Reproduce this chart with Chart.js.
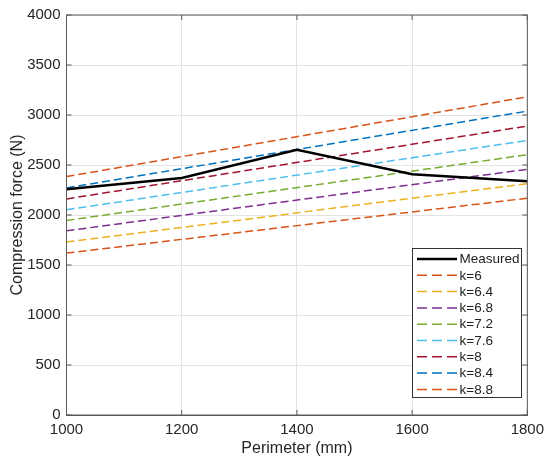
<!DOCTYPE html>
<html>
<head>
<meta charset="utf-8">
<script src="https://cdn.jsdelivr.net/npm/chart.js@4/dist/chart.umd.min.js"></script>
<style>
  html, body { margin: 0; padding: 0; background: #fff; }
  #wrap { width: 550px; height: 464px; }
</style>
</head>
<body>
<div id="wrap"><canvas id="chart"></canvas></div>
<script>
// measured curve
const perimeter = [1000, 1200, 1400, 1600, 1800];
const measured = [2257, 2371, 2653, 2407, 2337];

// model lines, one value at each end of the range
const kEnds = [1000, 1800];
const kLabels = ["k=6", "k=6.4", "k=6.8", "k=7.2", "k=7.6", "k=8", "k=8.4", "k=8.8"];
const kValues = [
  [1619, 2168],
  [1729, 2314],
  [1842, 2457],
  [1945, 2603],
  [2052, 2746],
  [2161, 2890],
  [2271, 3039],
  [2384, 3182],
];
const kColors = ["#D95319", "#EDB120", "#7E2F8E", "#77AC30", "#4DBEEE", "#A2142F", "#0072BD", "#D95319"];

const FONT = "'Liberation Sans', Arial, sans-serif";
const AXIS = "#5a5a5a";

const datasets = [{
  label: "Measured",
  data: perimeter.map((x, i) => ({ x: x, y: measured[i] })),
  borderColor: "#000",
  backgroundColor: "#000",
  borderWidth: 2.5,
  pointRadius: 0,
  showLine: true,
  tension: 0,
}];
kLabels.forEach((lab, i) => {
  datasets.push({
    label: lab,
    data: kEnds.map((x, j) => ({ x: x, y: kValues[i][j] })),
    borderColor: kColors[i],
    backgroundColor: kColors[i],
    borderWidth: 1.5,
    borderDash: [8, 4],
    pointRadius: 0,
    showLine: true,
  });
});

// box, inner ticks and the boxed legend, drawn like the matlab figure
const matlabBox = {
  id: "matlabBox",
  afterDraw(chart) {
    const { ctx, chartArea: a, scales } = chart;
    ctx.save();
    ctx.strokeStyle = AXIS;
    ctx.lineWidth = 1;
    ctx.strokeRect(a.left, a.top, a.right - a.left, a.bottom - a.top);
    ctx.beginPath();
    scales.x.ticks.forEach((t) => {
      const px = scales.x.getPixelForValue(t.value);
      ctx.moveTo(px, a.bottom); ctx.lineTo(px, a.bottom - 5);
      ctx.moveTo(px, a.top); ctx.lineTo(px, a.top + 5);
    });
    scales.y.ticks.forEach((t) => {
      const py = scales.y.getPixelForValue(t.value);
      ctx.moveTo(a.left, py); ctx.lineTo(a.left + 5, py);
      ctx.moveTo(a.right, py); ctx.lineTo(a.right - 5, py);
    });
    ctx.stroke();

    // legend
    const lx = 412.5, ly = 248.5, lw = 109, lh = 149;
    ctx.fillStyle = "#fff";
    ctx.fillRect(lx, ly, lw, lh);
    ctx.strokeStyle = "#333";
    ctx.strokeRect(lx, ly, lw, lh);
    ctx.font = "13.5px " + FONT;
    ctx.textBaseline = "middle";
    chart.data.datasets.forEach((ds, i) => {
      const y = 259 + i * 16.3;
      ctx.beginPath();
      ctx.strokeStyle = ds.borderColor;
      ctx.lineWidth = ds.borderWidth;
      ctx.setLineDash(ds.borderDash ? [10, 5] : []);
      ctx.moveTo(417, y); ctx.lineTo(457, y);
      ctx.stroke();
      ctx.setLineDash([]);
      ctx.fillStyle = "#222";
      ctx.fillText(ds.label, 459.5, y + 0.5);
    });
    ctx.restore();
  },
};

const plain = (v) => String(v);

new Chart(document.getElementById("chart"), {
  type: "scatter",
  data: { datasets: datasets },
  options: {
    responsive: true,
    maintainAspectRatio: false,
    animation: false,
    layout: { padding: { left: 0, right: 20.5, top: 14, bottom: 0 } },
    plugins: {
      legend: { display: false },
      tooltip: { enabled: false },
    },
    scales: {
      x: {
        type: "linear",
        min: 1000,
        max: 1800,
        ticks: { stepSize: 200, callback: plain, color: "#262626", font: { family: FONT, size: 15 }, padding: 6 },
        grid: { color: "#e3e3e3", drawTicks: false },
        border: { color: AXIS },
        title: { display: true, text: "Perimeter (mm)", color: "#262626", font: { family: FONT, size: 16 }, padding: { top: 0, bottom: 6 } },
        afterFit: (s) => { s.height = 49; },
      },
      y: {
        min: 0,
        max: 4000,
        ticks: { stepSize: 500, callback: plain, color: "#262626", font: { family: FONT, size: 15 }, padding: 6 },
        grid: { color: "#e3e3e3", drawTicks: false },
        border: { color: AXIS },
        title: { display: true, text: "Compression force (N)", color: "#262626", font: { family: FONT, size: 16 }, padding: { top: 8, bottom: 0 } },
        afterFit: (s) => { s.width = 66.5; },
      },
    },
  },
  plugins: [matlabBox],
});
</script>
</body>
</html>
